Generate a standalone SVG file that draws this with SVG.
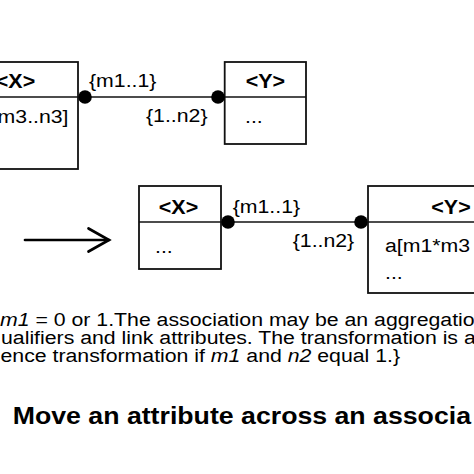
<svg xmlns="http://www.w3.org/2000/svg" width="474" height="474" viewBox="0 0 474 474">
<style>
.box{fill:#fff;stroke:#111;stroke-width:1.8}
.div{stroke:#111;stroke-width:1.6}
.con{stroke:#111;stroke-width:1.6;fill:none}
.dot{fill:#000}
text{font-family:"Liberation Sans",Arial,sans-serif;fill:#000}
.t{font-size:19px}
.b{font-size:19.5px;font-weight:bold}
.i{font-style:italic}
.title{font-size:24.5px;font-weight:bold}
</style>
<rect width="474" height="474" fill="#fff"/>
<g id="top-X">
<rect class="box" x="-47" y="62" width="125" height="107"/>
<line class="div" x1="-47" y1="97" x2="78" y2="97"/>
<text class="b" text-anchor="middle" transform="translate(15.5,87.5) scale(1.1,1)">&lt;X&gt;</text>
<text class="t" text-anchor="end" transform="translate(68.5,123) scale(1.12,1)">a[m3..n3]</text>
</g>
<g id="top-Y">
<rect class="box" x="224.7" y="62" width="81.3" height="82"/>
<line class="div" x1="224.7" y1="97" x2="306" y2="97"/>
<text class="b" text-anchor="middle" transform="translate(265.3,87.5) scale(1.1,1)">&lt;Y&gt;</text>
<text class="t" transform="translate(245,123) scale(1.12,1)">...</text>
</g>
<g id="bottom-X">
<rect class="box" x="139" y="186" width="82" height="83"/>
<line class="div" x1="139" y1="222" x2="221" y2="222"/>
<text class="b" text-anchor="middle" transform="translate(178.5,213.5) scale(1.1,1)">&lt;X&gt;</text>
<text class="t" transform="translate(155,253) scale(1.12,1)">...</text>
</g>
<g id="bottom-Y">
<rect class="box" x="368" y="186" width="170" height="107"/>
<line class="div" x1="368" y1="222" x2="538" y2="222"/>
<text class="b" text-anchor="middle" transform="translate(451,213.5) scale(1.1,1)">&lt;Y&gt;</text>
<text class="t" transform="translate(385,251.5) scale(1.12,1)">a[m1*m3</text>
<text class="t" transform="translate(385,278.5) scale(1.12,1)">...</text>
</g>
<g id="connectors">
<line class="con" x1="85" y1="97" x2="218" y2="97"/>
<circle class="dot" cx="85" cy="97" r="6.8"/>
<circle class="dot" cx="218" cy="97" r="6.8"/>
<text class="t" transform="translate(89,87) scale(1.12,1)">{m1..1}</text>
<text class="t" transform="translate(146,122) scale(1.12,1)">{1..n2}</text>
<line class="con" x1="228" y1="222" x2="361" y2="222"/>
<circle class="dot" cx="228" cy="222" r="6.8"/>
<circle class="dot" cx="361" cy="222" r="6.8"/>
<text class="t" transform="translate(232.7,213) scale(1.12,1)">{m1..1}</text>
<text class="t" transform="translate(292.7,247) scale(1.12,1)">{1..n2}</text>
</g>
<g id="transform-arrow" stroke="#000" stroke-width="2.7" fill="none" stroke-linecap="round" stroke-linejoin="miter">
<line x1="25" y1="240" x2="109" y2="240"/>
<polyline points="88.5,228.5 109,240 88.5,251.5"/>
</g>
<g id="note">
<text class="t" transform="translate(0,326) scale(1.12,1)"><tspan class="i">m1</tspan> = 0 or 1.The association may be an aggregatio</text>
<text class="t" transform="translate(1,344) scale(1.12,1)">ualifiers and link attributes. The transformation is a</text>
<text class="t" transform="translate(0.5,362) scale(1.12,1)">ence transformation if <tspan class="i">m1</tspan> and <tspan class="i">n2</tspan> equal 1.}</text>
</g>
<g id="caption">
<text class="title" transform="translate(12.7,423.5) scale(1.09,1)">Move an attribute across an associa</text>
</g>
</svg>
